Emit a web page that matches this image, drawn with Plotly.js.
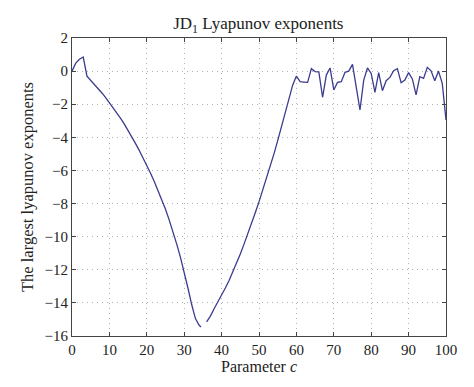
<!DOCTYPE html>
<html>
<head>
<meta charset="utf-8">
<script src="https://cdn.plot.ly/plotly-3.0.1.min.js"></script>
<style>html,body{margin:0;padding:0;background:#fff;}#chart{width:474px;height:387px;}</style>
</head>
<body>
<div id="chart"></div>
<script>
// Segment 1: c = 0 .. 34.5
const cLeft = [0,1,2,3,4,5,6,7,8,9,10,11,12,13,14,15,16,17,18,19,20,21,22,23,24,25,26,27,28,29,30,31,32,33,34,34.5];
const lyapLeft = [0.0,0.48,0.72,0.85,-0.3,-0.55,-0.78,-1.05,-1.32,-1.6,-1.9,-2.2,-2.52,-2.85,-3.2,-3.57,-3.97,-4.38,-4.8,-5.24,-5.7,-6.17,-6.67,-7.2,-7.75,-8.35,-9.0,-9.7,-10.45,-11.25,-12.1,-13.1,-14.1,-14.95,-15.35,-15.45];
// Segment 2: c = 36 .. 100
const cRight = [36,37,38,39,40,41,42,43,44,45,46,47,48,49,50,51,52,53,54,55,56,57,58,59,60,61,62,63,64,65,66,67,68,69,70,71,72,73,74,75,76,77,78,79,80,81,82,83,84,85,86,87,88,89,90,91,92,93,94,95,96,97,98,99,100];
const lyapRight = [-15.15,-14.8,-14.35,-13.95,-13.55,-13.1,-12.65,-12.15,-11.6,-11.05,-10.45,-9.85,-9.2,-8.55,-7.9,-7.2,-6.5,-5.75,-5.0,-4.2,-3.4,-2.55,-1.7,-0.85,-0.3,-0.64,-0.66,-0.68,0.15,-0.03,-0.05,-1.58,-0.24,0.19,-1.14,-0.68,-0.64,-0.07,0.0,0.41,-0.97,-2.35,-0.54,0.19,-0.14,-1.28,-0.09,-1.18,-0.58,-0.38,0.02,0.15,-0.7,-0.54,-0.09,-0.47,-1.44,-0.34,-0.44,0.23,0.02,-0.58,0.0,-0.74,-2.95];
const xTicks = [0,10,20,30,40,50,60,70,80,90,100];
const yTicks = [-16,-14,-12,-10,-8,-6,-4,-2,0,2];

const lineStyle = {color:'#3b3b8f', width:1.3};
const data = [
  {x:cLeft, y:lyapLeft, type:'scatter', mode:'lines', line:lineStyle, hoverinfo:'skip'},
  {x:cRight, y:lyapRight, type:'scatter', mode:'lines', line:lineStyle, hoverinfo:'skip'}
];
const serif = '"Liberation Serif", "DejaVu Serif", serif';
const axisCommon = {
  showline:true, mirror:'ticks', linecolor:'#444', linewidth:1,
  ticks:'inside', ticklen:4, tickcolor:'#444',
  showgrid:true, gridcolor:'#b0b0b0', griddash:'1px,4px', gridwidth:1,
  zeroline:false, tickfont:{family:serif, size:15, color:'#222'}
};
const layout = {
  width:474, height:387,
  margin:{l:72, r:28, t:38, b:51},
  paper_bgcolor:'#fff', plot_bgcolor:'#fff',
  showlegend:false,
  title:{text:'JD<sub>1</sub> Lyapunov exponents', font:{family:serif, size:17, color:'#222'}, x:0.545, xanchor:'center', y:0.94, yanchor:'middle'},
  xaxis:Object.assign({}, axisCommon, {range:[0,100], tickvals:xTicks, ticktext:xTicks.map(String),
    title:{text:'Parameter <i>c</i>', font:{family:serif, size:16, color:'#222'}, standoff:2}}),
  yaxis:Object.assign({}, axisCommon, {range:[-16,2], tickvals:yTicks, ticktext:yTicks.map(v=>v<0?'\u2212'+Math.abs(v):String(v)),
    title:{text:'The largest lyapunov exponents', font:{family:serif, size:16.5, color:'#222'}, standoff:6}})
};
Plotly.newPlot('chart', data, layout, {displayModeBar:false, staticPlot:true});
</script>
</body>
</html>
